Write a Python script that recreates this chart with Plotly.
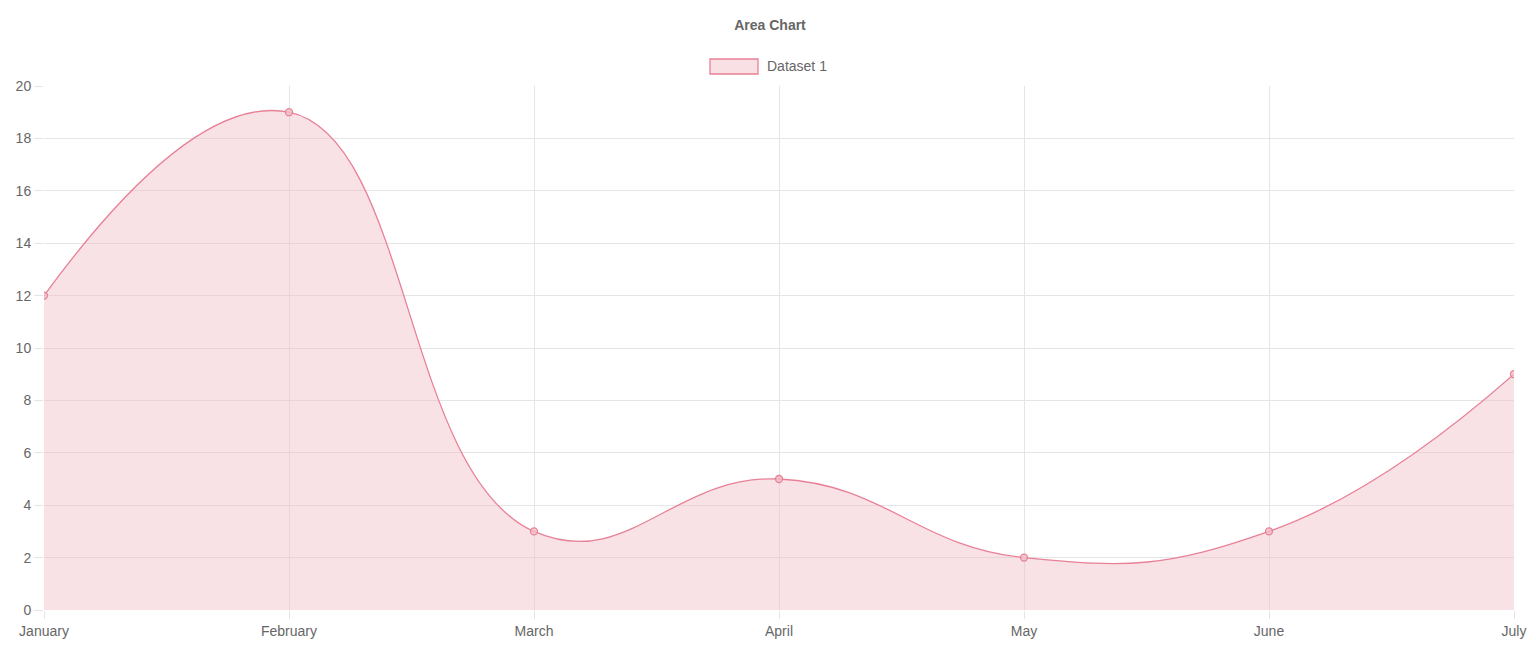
import plotly.graph_objects as go

months = ["January", "February", "March", "April", "May", "June", "July"]
values = [12, 19, 3, 5, 2, 3, 9]
y_ticks = [0, 2, 4, 6, 8, 10, 12, 14, 16, 18, 20]
title_text = "Area Chart"
series_name = "Dataset 1"

LINE = "rgb(232,128,150)"
FILL = "rgba(240,190,200,0.45)"
GRID = "rgb(229,229,229)"
TEXT = "#666666"
FONT = "Liberation Sans, Arial, sans-serif"

# page body has an 8px margin; figure coordinates below account for it
W, H = 1520, 636
L, R, T, B = 36, 14, 78, 34
PW, PH = W - L - R, H - T - B

fig = go.Figure()
fig.add_trace(go.Scatter(
    x=list(range(len(months))), y=values, name=series_name,
    mode="lines+markers", fill="tozeroy", fillcolor=FILL,
    line=dict(color=LINE, width=1.3, shape="spline", smoothing=1.3),
    marker=dict(size=7, color="rgba(240,190,200,0.8)", line=dict(color=LINE, width=1.3)),
    showlegend=False,
))

fig.update_layout(
    width=W, height=H,
    margin=dict(l=L, r=R, t=T, b=B, autoexpand=False),
    paper_bgcolor="white", plot_bgcolor="white",
    font=dict(family=FONT, size=14, color=TEXT),
    title=dict(text="<b>" + title_text + "</b>", x=(770 - 8) / W, xanchor="center",
               y=1 - 17 / H, yanchor="middle", font=dict(size=14, color=TEXT)),
    xaxis=dict(
        range=[0, 6], tickmode="array", tickvals=list(range(len(months))), ticktext=months,
        showgrid=True, gridcolor=GRID, gridwidth=1,
        ticks="outside", ticklen=8, tickcolor=GRID,
        showline=False, zeroline=False, fixedrange=True, automargin=False,
        tickfont=dict(size=14, color=TEXT),
    ),
    yaxis=dict(
        range=[0, 20], tickmode="array", tickvals=y_ticks,
        showgrid=True, gridcolor=GRID, gridwidth=1,
        ticks="outside", ticklen=9, tickcolor=GRID,
        showline=False, zeroline=False, fixedrange=True, automargin=False,
        tickfont=dict(size=14, color=TEXT),
    ),
)

# legend drawn manually (Chart.js-style wide box)
fig.add_shape(type="rect", xref="paper", yref="paper",
              x0=(702 - L) / PW, x1=(750 - L) / PW,
              y0=(H - B - 66) / PH, y1=(H - B - 51) / PH,
              line=dict(color=LINE, width=1.3), fillcolor="rgb(248,224,229)")
fig.add_annotation(xref="paper", yref="paper", x=(757 - L) / PW, y=(H - B - 58.5) / PH,
                   text=series_name, showarrow=False, xanchor="left", yanchor="middle",
                   font=dict(size=14, color=TEXT))

fig.write_html("out.html")
